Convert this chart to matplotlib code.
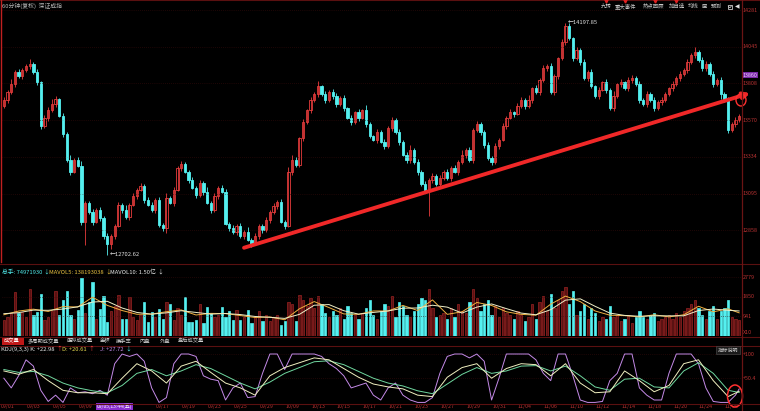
import numpy as np
import matplotlib
matplotlib.use('Agg')
import matplotlib.pyplot as plt
from matplotlib.patches import Ellipse, Rectangle, Arc
from matplotlib.transforms import blended_transform_factory

plt.rcParams['font.family'] = ['Noto Sans CJK SC', 'DejaVu Sans']
plt.rcParams['axes.unicode_minus'] = False

W, H = 760, 411

# 60-minute bars, close prices
closes = [
    13700, 13752, 13803, 13881, 13855, 13894, 13920, 13933, 13881, 13816,
    13532, 13584, 13635, 13674, 13706, 13597, 13480, 13312, 13235, 13312,
    13274, 12912, 13035, 12976, 12912, 12989, 12938, 12821, 12770, 12821,
    12886, 13022, 12989, 12944, 13022, 13080, 13119, 13144, 13054, 13022,
    12989, 13054, 12892, 12873, 13067, 13035, 13119, 13261, 13287, 13235,
    13183, 13132, 13086, 13164, 13106, 13035, 12989, 13080, 13132, 13106,
    12899, 12873, 12847, 12886, 12821, 12847, 12796, 12770, 12821, 12886,
    12860, 12925, 12976, 13015, 13041, 12912, 12886, 13235, 13312, 13280,
    13454, 13558, 13635, 13700, 13739, 13790, 13739, 13700, 13752, 13726,
    13674, 13713, 13648, 13584, 13558, 13622, 13584, 13635, 13545, 13467,
    13442, 13493, 13429, 13403, 13519, 13571, 13493, 13429, 13345, 13312,
    13377, 13299, 13235, 13157, 13119, 13183, 13209, 13157, 13196, 13235,
    13196, 13261, 13235, 13299, 13345, 13377, 13312, 13506, 13545, 13493,
    13409, 13325, 13299, 13403, 13442, 13532, 13584, 13622, 13610, 13661,
    13700, 13661, 13700, 13777, 13752, 13829, 13907, 13920, 13752, 13855,
    13971, 14075, 14178, 14100, 13971, 14023, 13945, 13842, 13881, 13790,
    13726, 13765, 13816, 13765, 13648, 13726, 13803, 13816, 13777, 13829,
    13842, 13803, 13700, 13674, 13739, 13700, 13648, 13687, 13700, 13739,
    13777, 13803, 13842, 13868, 13894, 13945, 13991, 14010, 13958, 13907,
    13933, 13868, 13803, 13829, 13739, 13700, 13506, 13545, 13571, 13597,
]
first_open = 13660
# wick lengths, one base-36 digit per bar, in units of 10 points
upper_wick = ("2131211312" "1223212131" "2311212121" "1213121212" "2121312121"
              "1212131212" "2121213121" "1212121332" "1212131212" "2121212131"
              "1212121212" "3121212121" "2121312121" "1212121212" "2131212121"
              "1222121212" "1212131212" "2121212121" "1212121312" "2121212121")
lower_wick = ("1212121212" "2121212121" "12f1212273" "2121212121" "1212312121"
              "2121212121" "1212121212" "2121212121" "1212121212" "2121212121"
              "1212121212" "21212h2121" "1212121212" "2121212121" "1212121212"
              "2121212121" "1212121212" "2121212121" "1212121212" "2121312121")

volumes = [
    750, 900, 1100, 2060, 1070, 1130, 900, 2220, 1000, 1130,
    2000, 750, 900, 1200, 2140, 1000, 1680, 2140, 1000, 800,
    1210, 2730, 1070, 1600, 2530, 820, 1290, 1900, 670, 1200,
    1400, 1910, 820, 820, 1830, 900, 750, 1000, 1600, 670,
    1130, 900, 1290, 800, 1600, 1490, 750, 1300, 1000, 1860,
    670, 670, 750, 1520, 590, 1370, 1100, 900, 1000, 1370,
    900, 1200, 760, 1210, 750, 900, 1210, 600, 900, 1180,
    700, 1000, 700, 900, 1000, 520, 700, 1600, 1500, 700,
    1910, 1700, 1400, 1800, 1300, 1900, 1500, 1100, 900, 1200,
    1000, 1300, 800, 1400, 1100, 1000, 800, 1100, 1300, 1700,
    1000, 800, 1200, 1500, 1400, 1900, 900, 1600, 1400, 1000,
    900, 1200, 1500, 1800, 1700, 2200, 1300, 900, 1000, 1100,
    800, 1300, 900, 1500, 1200, 1100, 1600, 2200, 1800, 1200,
    1500, 1700, 1000, 1400, 900, 1300, 1100, 1000, 800, 1200,
    1000, 700, 900, 1500, 800, 1600, 1900, 1200, 2000, 1300,
    1700, 2100, 2300, 1500, 2100, 1000, 1200, 1500, 800, 1300,
    1100, 700, 900, 800, 1400, 900, 1000, 700, 800, 1000,
    600, 900, 1200, 900, 800, 1000, 1100, 700, 800, 900,
    1000, 800, 1100, 900, 1200, 1300, 1500, 1700, 1300, 1000,
    800, 1200, 1400, 800, 1200, 1300, 1700, 900, 800, 750,
]

ma_idx = list(range(0, 200, 4)) + [199]
mavol5 = [1000, 1176, 1264, 1156, 1384, 1366, 1828, 1442, 1200, 1024, 1030, 1144, 1228,
          990, 1066, 1054, 964, 872, 896, 764, 1282, 1622, 1340, 1040, 1020, 1180, 1180,
          1440, 1200, 1700, 1020, 1140, 1580, 1440, 1140, 1020, 980, 1500, 1880, 1620,
          1180, 980, 960, 900, 1000, 900, 1000, 1400, 1140, 1280, 1090]
mavol10 = [1050, 1100, 1220, 1210, 1270, 1375, 1600, 1635, 1320, 1110, 1030, 1090, 1190,
           1110, 1030, 1060, 1010, 920, 880, 830, 1020, 1450, 1480, 1190, 1030, 1110, 1180,
           1310, 1320, 1450, 1360, 1080, 1360, 1510, 1290, 1080, 1000, 1240, 1690, 1750,
           1400, 1080, 970, 930, 950, 950, 950, 1200, 1270, 1210, 1180]

kd_idx = list(range(0, 200, 4)) + [199]
k_vals = [65, 58, 68, 45, 25, 20, 20, 18, 50, 80, 65, 40, 75, 85, 62, 40, 30, 15, 55, 72,
          82, 92, 88, 70, 52, 38, 32, 28, 15, 12, 52, 72, 80, 50, 70, 80, 78, 55, 80, 40,
          20, 22, 65, 45, 22, 35, 80, 88, 45, 12, 22.98]
d_vals = [68, 62, 64, 55, 40, 30, 24, 20, 35, 60, 68, 55, 65, 78, 70, 55, 40, 28, 42, 60,
          72, 84, 86, 78, 64, 50, 40, 34, 24, 18, 38, 58, 72, 60, 65, 75, 76, 65, 75, 55,
          32, 25, 48, 50, 32, 30, 65, 82, 60, 25, 20.61]
j_idx = list(range(0, 200, 2)) + [199]
j_vals = [50, 30, 55, 88, 75, 25, 2, 15, 0, 30, 20, 22, 18, 25, 15, 80, 100, 95, 100, 85,
          30, 0, 10, 80, 100, 100, 95, 55, 48, 45, 5, 30, 40, 10, 12, 60, 100, 100, 68, 100,
          100, 100, 100, 95, 80, 70, 55, 30, 35, 40, 15, 5, 30, 40, 15, 5, 0, 0, 10, 60,
          95, 100, 100, 92, 100, 85, 5, 50, 100, 100, 100, 100, 88, 60, 45, 100, 100, 55, 5, 0,
          0, 2, 45, 60, 100, 100, 30, 15, 5, 5, 60, 100, 100, 100, 80, 30, 2, 0, 0, 15, 27.72]

price_ticks = [14281, 14045, 13808, 13570, 13334, 13095, 12858]
vol_ticks = [941, 1850, 2779]
kdj_ticks = [50.4, 100]
date_idx = [1 + 7 * k for k in range(29)]
date_labels = ['09/01', '09/03', '09/05', '09/09', '09/11', '09/15', '09/17', '09/19', '09/23',
               '09/25', '09/29', '10/09', '10/13', '10/15', '10/17', '10/21', '10/23', '10/27',
               '10/29', '10/31', '11/04', '11/06', '11/10', '11/12', '11/14', '11/18', '11/20',
               '11/24', '11/26']
cursor_idx = 30
cursor_label = '09/05,13:44(五)'
trend_from = (65, 12745)
trend_to = (202, 13745)

RED = '#e83c3c'
CYAN = '#54f0f0'
AXRED = '#b83232'
GRID = '#3a0c0c'
FS = 4.2
AFS = 3.9

fig = plt.figure(figsize=(W / 100, H / 100), dpi=100, facecolor='black')
renderer = fig.canvas.get_renderer()


def px_axes(x0, y0, x1, y1):
    a = fig.add_axes([x0 / W, 1 - y1 / H, (x1 - x0) / W, (y1 - y0) / H])
    a.set_facecolor('black')
    a.set_axis_off()
    return a


n = len(closes)
idx = np.arange(n)
c = np.array(closes, dtype=float)
o = np.array([first_open] + closes[:-1], dtype=float)
up = c >= o
highs = np.maximum(o, c) + np.array([int(ch, 36) for ch in upper_wick]) * 10
lows = np.minimum(o, c) - np.array([int(ch, 36) for ch in lower_wick]) * 10
cols = np.where(up, RED, CYAN)

# ---- main candle panel
ax = px_axes(2, 5, 741, 262)
ax.set_xlim(-0.5, n - 0.5)
ax.set_ylim(12653, 14314)
for p in price_ticks:
    ax.axhline(p, color=GRID, lw=0.5, ls=(0, (1, 2)))
ax.vlines(idx, lows, highs, colors=cols, lw=0.6)
body = np.maximum(np.abs(c - o), 4)
ax.bar(idx, body, bottom=np.minimum(o, c), width=0.62,
       color=np.where(up, 'black', CYAN), edgecolor=cols, linewidth=0.6)
ytr = ax.get_yaxis_transform()
for p in price_ticks:
    ax.text(1.002, p, str(p), transform=ytr, color=AXRED, fontsize=AFS, va='center', clip_on=False)
ax.text(1.002, 13860, '13860', transform=ytr, color='#f0d0ff', fontsize=AFS, va='center',
        clip_on=False, bbox=dict(boxstyle='square,pad=0.12', fc='#7a28a8', ec='none'))
ih = int(np.argmax(highs))
il = int(np.argmin(lows))
ax.text(ih + 0.6, highs[ih], '←14197.85', color='#e0e0e0', fontsize=FS, va='center')
ax.text(il + 0.6, lows[il], '←12702.62', color='#e0e0e0', fontsize=FS, va='center')
ax.annotate('', xy=trend_to, xytext=trend_from, annotation_clip=False,
            arrowprops=dict(arrowstyle='-|>', color='#f02828', lw=2.8, mutation_scale=9,
                            shrinkA=0, shrinkB=0))

# ---- volume panel
av = px_axes(2, 270, 741, 336)
av.set_xlim(-0.5, n - 0.5)
av.set_ylim(0, 3109)
for v in vol_ticks:
    av.axhline(v, color=GRID, lw=0.5, ls=(0, (1, 2)))
av.bar(idx, volumes, width=0.62, color=np.where(up, '#5a1212', CYAN),
       edgecolor=np.where(up, '#9a2222', CYAN), linewidth=0.5)
av.plot(ma_idx, mavol5, color='#f0b040', lw=0.7)
av.plot(ma_idx, mavol10, color='#f0f0c8', lw=0.7)
vtr = av.get_yaxis_transform()
for v in vol_ticks:
    av.text(1.002, v, str(v), transform=vtr, color=AXRED, fontsize=AFS, va='center', clip_on=False)
av.text(1.002, 180, 'X10', transform=vtr, color=AXRED, fontsize=AFS, va='center', clip_on=False)

# ---- KDJ panel
ak = px_axes(2, 345, 741, 403)
ak.set_xlim(-0.5, n - 0.5)
ak.set_ylim(-1.2, 118.6)
for v in kdj_ticks:
    ak.axhline(v, color=GRID, lw=0.5, ls=(0, (1, 2)))
ak.plot(j_idx, j_vals, color='#c48ae8', lw=0.7)
ak.plot(kd_idx, d_vals, color='#70d8a0', lw=0.7)
ak.plot(kd_idx, k_vals, color='#f0f0c0', lw=0.7)
ktr = ak.get_yaxis_transform()
for v, s in zip(kdj_ticks, ['+50.4', '+100']):
    ak.text(1.002, v, s, transform=ktr, color=AXRED, fontsize=AFS, va='center', clip_on=False)
dtr = blended_transform_factory(ak.transData, ak.transAxes)
for i, s in zip(date_idx, date_labels):
    if abs(i - cursor_idx) < 7:
        continue  # hidden behind the cursor time box
    ak.text(i, -0.065, s, transform=dtr, color=AXRED, fontsize=3.8, ha='center', va='center',
            clip_on=False)
ak.text(cursor_idx, -0.065, cursor_label, transform=dtr, color='white', fontsize=3.6,
        ha='center', va='center', clip_on=False,
        bbox=dict(boxstyle='square,pad=0.2', fc='#8a2ed0', ec='none'))

# ---- frame, headers and hand-drawn marks (pixel coordinates)
ov = fig.add_axes([0, 0, 1, 1], zorder=10)
ov.set_xlim(0, W)
ov.set_ylim(H, 0)
ov.axis('off')
ov.patch.set_alpha(0)


def chain(x, y, pieces, gap=1.5, size=FS):
    # draw coloured text pieces one after another on a line
    for s, col in pieces:
        t = ov.text(x, y, s, color=col, fontsize=size, va='center')
        bb = t.get_window_extent(renderer)
        x += bb.width + gap


for y in [0.5, 263.5, 336.5, 345.5, 403.5]:
    ov.plot([0, 760], [y, y], color='#5a1010', lw=0.8)
ov.plot([0.6, 0.6], [0, 262], color='#c02020', lw=1.0)
ov.plot([741.5, 741.5], [0, 411], color='#6a1414', lw=0.9)

ov.text(2, 6, '60分钟(复权)  深证成指', color='#b8b8b8', fontsize=FS, va='center')
tools = [(601, '九转'), (615, '重大事件'), (643, '热点回顾'), (669, '加自选'),
         (688, '均线'), (702, '画'), (711, '预测')]
for x, s in tools:
    ov.text(x, 6, s, color='#c8c8c8', fontsize=3.9, va='center')
for x in [606, 625, 655, 676]:
    ov.plot(x, 1.5, marker='v', color='#e02020', ms=2.2)
# lock icon and collapse arrow
ov.add_patch(Rectangle((727.5, 5.5), 4.5, 3.5, fill=False, ec='#c8c8c8', lw=0.6))
ov.add_patch(Arc((729.75, 5.5), 3, 4, theta1=0, theta2=180, ec='#c8c8c8', lw=0.6))
ov.text(735, 6.5, '◀', color='#e0e0e0', fontsize=FS, va='center', family='DejaVu Sans')

chain(2, 272, [('总手: 74971930', '#50e8e8'), ('↓', '#50e8e8')])
chain(49, 272, [('MAVOL5: 138193038', '#e8c040'), ('↓', '#e8c040')])
chain(110, 272, [('MAVOL10: 1.50亿', '#e8e8e8'), ('↓', '#e8e8e8')])

ov.add_patch(Rectangle((2, 336.8), 22, 8, fc='#c01818', ec='none'))
tabs = [(4, '成交量'), (28, '多周期成交量'), (67, '虚拟成交量'), (100, '金额'),
        (116, '换手率'), (139, '内盘'), (160, '外盘'), (178, '盘后成交量')]
for x, s in tabs:
    ov.text(x, 341, s, color='#d0d0d0' if x > 4 else 'white', fontsize=3.8, va='center')

chain(1, 349, [('KDJ(9,3,3) K: +22.98', '#e8e8e8'), ('↑', '#ff4040')])
chain(62, 349, [('D: +20.61', '#e8d850'), ('↑', '#ff4040')])
chain(100, 349, [('J: +27.72', '#c48ae8'), ('↓', '#50e8e8')])
ov.text(728, 350, '指标说明', color='#d0d0d0', fontsize=3.7, va='center', ha='center',
        bbox=dict(boxstyle='square,pad=0.25', fc='#1a1a1a', ec='#505050', lw=0.4))

ov.add_patch(Ellipse((741, 100), 10, 12, fill=False, ec='#ff3030', lw=1.0))
ov.add_patch(Ellipse((735, 396), 15, 22, fill=False, ec='#ff3030', lw=1.1))

fig.savefig('out.png', dpi=100, facecolor='black')
